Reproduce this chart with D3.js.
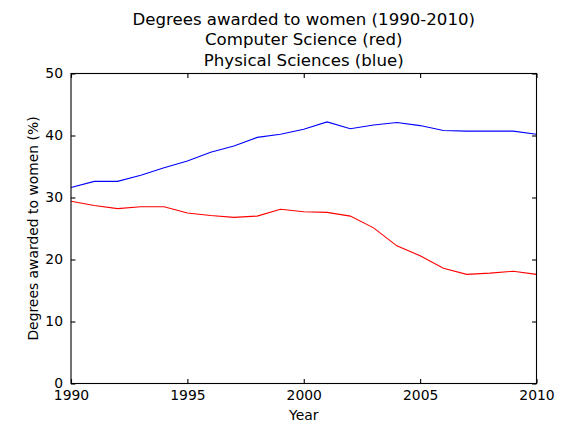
<!DOCTYPE html>
<html>
<head>
<meta charset="utf-8">
<script src="https://cdn.jsdelivr.net/npm/d3@7"></script>
<style>
  body { margin: 0; background: #fff; }
  svg { display: block; font-family: "DejaVu Sans", sans-serif; }
  .axis path { display: none; }
  .axis line { stroke: #000; stroke-width: 1.1; }
  .axis text { font-size: 13.9px; fill: #000; font-family: "DejaVu Sans", sans-serif; }
</style>
</head>
<body>
<div class="chart"></div>
<script>
// years on x, percent of degrees awarded to women on y
let years = [1990, 1991, 1992, 1993, 1994, 1995, 1996, 1997, 1998, 1999, 2000,
             2001, 2002, 2003, 2004, 2005, 2006, 2007, 2008, 2009, 2010];
let computerScience = [29.4, 28.7, 28.2, 28.5, 28.5, 27.5, 27.1, 26.8, 27.0, 28.1, 27.7,
                       27.6, 27.0, 25.1, 22.2, 20.6, 18.6, 17.6, 17.8, 18.1, 17.6];
let physicalSciences = [31.6, 32.6, 32.6, 33.6, 34.8, 35.9, 37.3, 38.3, 39.7, 40.2, 41.0,
                        42.2, 41.1, 41.7, 42.1, 41.6, 40.8, 40.7, 40.7, 40.7, 40.2];
let xTicks = [1990, 1995, 2000, 2005, 2010];
let yTicks = [0, 10, 20, 30, 40, 50];
let titleLines = ["Degrees awarded to women (1990-2010)", "Computer Science (red)", "Physical Sciences (blue)"];

let W = 561, H = 431;
let margin = { top: 73.5, right: 24.5, bottom: 47.5, left: 71 },
    width = W - margin.left - margin.right,
    height = H - margin.top - margin.bottom;

let svg = d3.select(".chart").append("svg")
    .attr("width", W)
    .attr("height", H);

let g = svg.append("g")
    .attr("transform", "translate(" + margin.left + "," + margin.top + ")");

let x = d3.scaleLinear().domain([1990, 2010]).range([0, width]),
    y = d3.scaleLinear().domain([0, 50]).range([height, 0]);

let tick = 4.4;

// bottom + left with labels, top + right bare (ticks point inward)
g.append("g").attr("class", "x axis")
    .attr("transform", "translate(0," + height + ")")
    .call(d3.axisBottom(x).tickValues(xTicks).tickFormat(d3.format("d"))
        .tickSizeInner(-tick).tickSizeOuter(0).tickPadding(6.5));

g.append("g").attr("class", "y axis")
    .call(d3.axisLeft(y).tickValues(yTicks).tickSizeInner(-tick).tickSizeOuter(0).tickPadding(8));

g.append("g").attr("class", "x axis")
    .call(d3.axisTop(x).tickValues(xTicks).tickFormat("").tickSizeInner(-tick).tickSizeOuter(0));

g.append("g").attr("class", "y axis")
    .attr("transform", "translate(" + width + ",0)")
    .call(d3.axisRight(y).tickValues(yTicks).tickFormat("").tickSizeInner(-tick).tickSizeOuter(0));

let line = d3.line()
    .x((d, i) => x(years[i]))
    .y(d => y(d));

g.append("path")
    .datum(computerScience)
    .attr("d", line)
    .attr("fill", "none")
    .attr("stroke", "#ff0000")
    .attr("stroke-width", 1.1);

g.append("path")
    .datum(physicalSciences)
    .attr("d", line)
    .attr("fill", "none")
    .attr("stroke", "#0000ff")
    .attr("stroke-width", 1.1);

// frame
g.append("rect")
    .attr("width", width)
    .attr("height", height)
    .attr("fill", "none")
    .attr("stroke", "#000")
    .attr("stroke-width", 1.1);

// titles and labels
svg.append("g").selectAll("text")
    .data(titleLines)
    .enter().append("text")
    .attr("x", margin.left + width / 2)
    .attr("y", (d, i) => 24.5 + i * 20.8)
    .attr("text-anchor", "middle")
    .style("font-size", "16.6px")
    .text(d => d);

svg.append("text")
    .attr("x", margin.left + width / 2)
    .attr("y", 420)
    .attr("text-anchor", "middle")
    .style("font-size", "13.9px")
    .text("Year");

svg.append("text")
    .attr("transform", "translate(37.5," + (margin.top + height / 2) + ") rotate(-90)")
    .attr("text-anchor", "middle")
    .style("font-size", "13.9px")
    .text("Degrees awarded to women (%)");
</script>
</body>
</html>
